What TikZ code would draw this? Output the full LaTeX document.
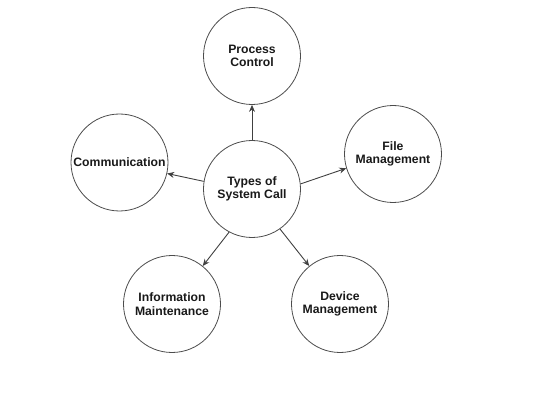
\documentclass[tikz,border=0pt]{standalone}
\usepackage{fontspec}
\setmainfont{Liberation Sans}
\usetikzlibrary{arrows.meta}

\tikzset{
	call/.style={circle, draw=black!70, line width=0.8pt, minimum size=97pt, inner sep=0pt,
		align=center, text=black!90, font=\bfseries\fontsize{12.2}{13.6}\selectfont},
	link/.style={draw=black!75, line width=0.9pt, -{Stealth[length=7pt, width=6pt]}}
}

\begin{document}
\begin{tikzpicture}[x=1pt, y=-1pt]
	\useasboundingbox (0,0) rectangle (536,409);

	%centre
	\node[call] (types) at (252,189) {Types of\\System Call};

	%kinds of call
	\node[call] (process) at (252,56) {Process\\Control};
	\node[call] (file) at (393,154) {File\\Management};
	\node[call] (device) at (340,304) {Device\\Management};
	\node[call] (info) at (172,304) {Information\\Maintenance};
	\node[call] (comm) at (119.5,162.5) {Communication};

	%arrows
	\foreach \tgt/\a/\b in {process/90/270, file/6/197, device/305/129, info/242/51, comm/171/347}
		\draw[link] (types.\a) -- (\tgt.\b);
\end{tikzpicture}
\end{document}
